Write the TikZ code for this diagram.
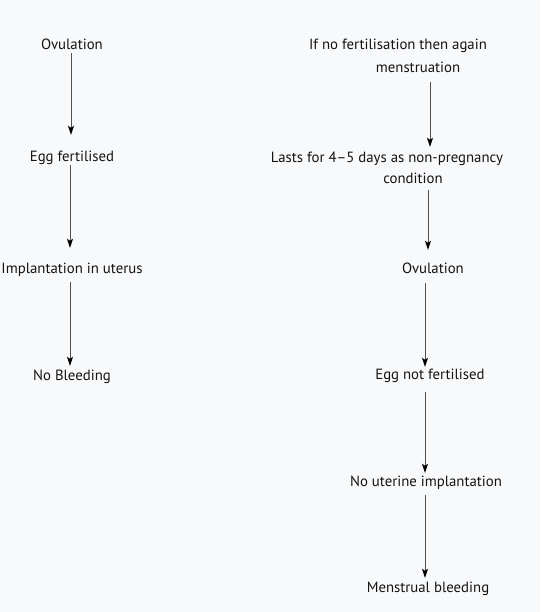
\documentclass[tikz,border=0pt]{standalone}
\usepackage{fontspec}
\setmainfont{PT Sans}
\usetikzlibrary{arrows.meta}
\definecolor{bg}{RGB}{248,249,251}
\definecolor{linec}{RGB}{80,80,80}
\definecolor{txt}{RGB}{20,20,20}
\begin{document}
\begin{tikzpicture}[x=1pt,y=1pt,
  lbl/.style={inner sep=0pt, anchor=base, text height=10pt, text depth=3pt, text=txt, font=\fontsize{14.8}{17}\selectfont},
  arr/.style={draw=linec, line width=0.9pt, -{Stealth[length=9pt,width=6pt,inset=2pt,color=black]}}]
\fill[bg] (0,0) rectangle (540,612);
\useasboundingbox (0,0) rectangle (540,612);
% left column
\node[lbl] (ovL)   at (72,562) {Ovulation};
\node[lbl] (eggF)  at (72,450) {Egg fertilised};
\node[lbl] (impl)  at (72,338) {Implantation in uterus};
\node[lbl] (noB)   at (72,231) {No Bleeding};
% right column
\node[lbl] (ifno)  at (398,562) {If no fertilisation then again};
\node[lbl] (menst) at (418,539) {menstruation};
\node[lbl] (lasts) at (387,449) {Lasts for 4–5 days as non-pregnancy};
\node[lbl] (cond)  at (413,428) {condition};
\node[lbl] (ovR)   at (433,338) {Ovulation};
\node[lbl] (eggN)  at (430,232) {Egg not fertilised};
\node[lbl] (noU)   at (426,125) {No uterine implantation};
\node[lbl] (menB)  at (428,19)  {Menstrual bleeding};
% arrows left
\draw[arr, shorten <=0pt, shorten >=17pt] ([xshift=-1pt]ovL.south) -- ([xshift=-1pt]ovL.south |- eggF.north);
\draw[arr, shorten <=0pt, shorten >=16pt] ([xshift=-2pt]eggF.south) -- ([xshift=-2pt]eggF.south |- impl.north);
\draw[arr, shorten <=5pt, shorten >=5pt] ([xshift=-2pt]impl.south) -- ([xshift=-2pt]impl.south |- noB.north);
% arrows right
\draw[arr, shorten <=6pt, shorten >=6pt] ([xshift=12pt]menst.south) -- ([xshift=12pt]menst.south |- lasts.north);
\draw[arr, shorten <=3pt, shorten >=14pt] ([xshift=15pt]cond.south) -- ([xshift=15pt]cond.south |- ovR.north);
\draw[arr, shorten <=6pt, shorten >=3pt] ([xshift=-8pt]ovR.south) -- ([xshift=-8pt]ovR.south |- eggN.north);
\draw[arr, shorten <=9pt, shorten >=4pt] ([xshift=-5pt]eggN.south) -- ([xshift=-5pt]eggN.south |- noU.north);
\draw[arr, shorten <=5pt, shorten >=5pt] ([xshift=-1pt]noU.south) -- ([xshift=-1pt]noU.south |- menB.north);
\end{tikzpicture}
\end{document}
